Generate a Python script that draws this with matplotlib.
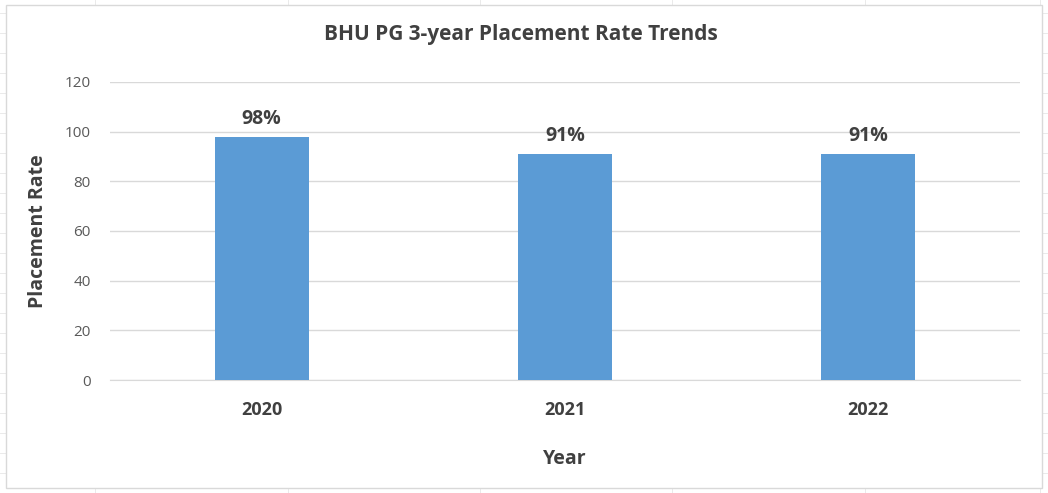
import matplotlib
matplotlib.use("Agg")
import matplotlib.pyplot as plt
from matplotlib.patches import Rectangle

years = ["2020", "2021", "2022"]
rates = [98, 91, 91]
labels = ["98%", "91%", "91%"]

plt.rcParams['font.family'] = ['Open Sans', 'DejaVu Sans']
fig = plt.figure(figsize=(10.48, 4.93), dpi=100)
# spreadsheet cell grid behind chart
for yy in range(0, 493, 20):
    fig.add_artist(plt.Line2D([0, 1], [yy/493, yy/493], color="#e6e6e6", lw=0.6, zorder=-2))
for xx in [95, 288, 480, 672, 865, 1040]:
    fig.add_artist(plt.Line2D([xx/1048, xx/1048], [0, 1], color="#e6e6e6", lw=0.6, zorder=-2))
fig.add_artist(Rectangle((6/1048, 5/493), 1036/1048, 483/493, transform=fig.transFigure,
                         facecolor="white", edgecolor="#d9d9d9", lw=1, zorder=-1))

ax = fig.add_axes([0.105, 0.229, 0.868, 0.605])
ax.set_zorder(1)
ax.set_facecolor("none")
x = range(len(years))
ax.bar(x, rates, width=0.31, color="#5b9bd5", zorder=3)
for i, (v, l) in enumerate(zip(rates, labels)):
    ax.text(i, v + 3, l, ha="center", va="bottom", fontsize=14, fontweight="bold", color="#404040")
ax.set_ylim(0, 120)
ax.set_xlim(-0.5, 2.5)
ax.set_yticks(range(0, 121, 20))
ax.yaxis.grid(True, color="#d9d9d9", lw=1)
ax.set_axisbelow(True)
ax.set_xticks(list(x))
ax.set_xticklabels(years, fontsize=13, fontweight="bold", color="#404040")
ax.tick_params(axis="y", labelsize=11, colors="#595959", length=0, pad=14)
ax.tick_params(axis="x", length=0, pad=15)
for s in ["top", "right", "left"]:
    ax.spines[s].set_visible(False)
ax.spines["bottom"].set_color("#d9d9d9")
ax.set_xlabel("Year", fontsize=14, fontweight="bold", color="#404040", labelpad=22)
ax.set_ylabel("Placement Rate", fontsize=14, fontweight="bold", color="#404040", labelpad=12)
fig.text(0.497, 0.93, "BHU PG 3-year Placement Rate Trends", ha="center", va="center",
         fontsize=15, fontweight="bold", color="#404040")
fig.savefig("out.png", dpi=100)
